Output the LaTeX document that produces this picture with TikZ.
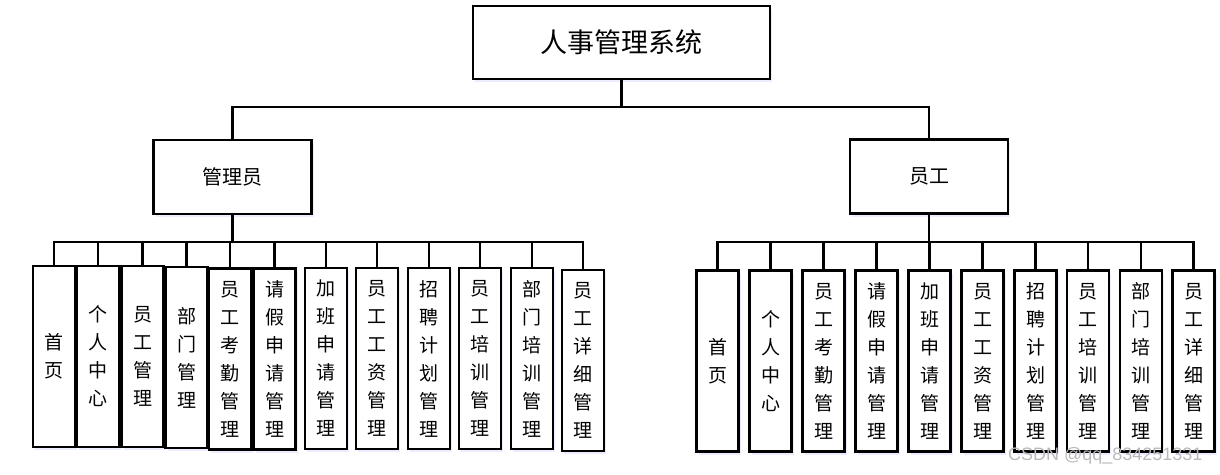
\documentclass[tikz,border=0pt]{standalone}
\usepackage{fontspec}
\setmainfont{Noto Sans CJK SC}
\newfontfamily\markfont{Liberation Sans}
\usetikzlibrary{positioning, shadows}

\begin{document}
\begin{tikzpicture}[x=1pt, y=-1pt,
    box/.style={draw, line width=2.5pt, fill=white, inner sep=0pt, align=center,
        drop shadow={shadow xshift=2pt, shadow yshift=-3pt, fill=blue!15, opacity=0.5}},
    topbox/.style={box, minimum width=297pt, minimum height=73pt, font=\fontsize{27}{32}\selectfont},
    rolebox/.style={box, minimum width=158pt, minimum height=74pt, font=\fontsize{20}{24}\selectfont},
    leafbox/.style={box, minimum width=42pt, minimum height=181pt, font=\fontsize{19}{28}\selectfont},
    link/.style={line width=2.1pt}]
    \useasboundingbox (0,0) rectangle (1220,474);

    % Top level
    \node[topbox] (root) at (621.5,42.5) {人事管理系统};
    \node[rolebox] (admin) at (232.5,177) {管理员};
    \node[rolebox] (staff) at (929,176.5) {员工};

    % Admin modules
    \node[leafbox] (a1) at (54,356.5) {首\\页};
    \node[leafbox] (a2) at (98,356.5) {个\\人\\中\\心};
    \node[leafbox] (a3) at (142.5,356.5) {员\\工\\管\\理};
    \node[leafbox] (a4) at (186.5,357.5) {部\\门\\管\\理};
    \node[leafbox] (a5) at (230,359) {员\\工\\考\\勤\\管\\理};
    \node[leafbox] (a6) at (274.5,359) {请\\假\\申\\请\\管\\理};
    \node[leafbox] (a7) at (326,358.5) {加\\班\\申\\请\\管\\理};
    \node[leafbox] (a8) at (377,358.5) {员\\工\\工\\资\\管\\理};
    \node[leafbox] (a9) at (429,358.5) {招\\聘\\计\\划\\管\\理};
    \node[leafbox] (a10) at (480,358.5) {员\\工\\培\\训\\管\\理};
    \node[leafbox] (a11) at (532,358.5) {部\\门\\培\\训\\管\\理};
    \node[leafbox] (a12) at (583,360.5) {员\\工\\详\\细\\管\\理};

    % Staff modules
    \node[leafbox] (s1) at (717.5,361) {首\\页};
    \node[leafbox] (s2) at (770.5,361) {个\\人\\中\\心};
    \node[leafbox] (s3) at (823.5,361) {员\\工\\考\\勤\\管\\理};
    \node[leafbox] (s4) at (876.5,361) {请\\假\\申\\请\\管\\理};
    \node[leafbox] (s5) at (929.5,361) {加\\班\\申\\请\\管\\理};
    \node[leafbox] (s6) at (982.5,361) {员\\工\\工\\资\\管\\理};
    \node[leafbox] (s7) at (1035.5,361) {招\\聘\\计\\划\\管\\理};
    \node[leafbox] (s8) at (1088,361) {员\\工\\培\\训\\管\\理};
    \node[leafbox] (s9) at (1141,361) {部\\门\\培\\训\\管\\理};
    \node[leafbox] (s10) at (1193.5,361) {员\\工\\详\\细\\管\\理};

    % Root connectors
    \coordinate (rootbar) at (621.5,107);
    \draw[link] (root.south) -- (rootbar);
    \draw[link] (admin.north) |- (rootbar) -| (staff.north);

    % Admin connectors
    \coordinate (adminbar) at (232.5,242);
    \draw[link] (admin.south) -- (adminbar);
    \draw[link] (a1.north) |- (adminbar);
    \draw[link] (a2.north) |- (adminbar);
    \draw[link] (a3.north) |- (adminbar);
    \draw[link] (a4.north) |- (adminbar);
    \draw[link] (a5.north) |- (adminbar);
    \draw[link] (a6.north) |- (adminbar);
    \draw[link] (a7.north) |- (adminbar);
    \draw[link] (a8.north) |- (adminbar);
    \draw[link] (a9.north) |- (adminbar);
    \draw[link] (a10.north) |- (adminbar);
    \draw[link] (a11.north) |- (adminbar);
    \draw[link] (a12.north) |- (adminbar);

    % Staff connectors
    \coordinate (staffbar) at (929,242);
    \draw[link] (staff.south) -- (staffbar);
    \draw[link] (s1.north) |- (staffbar);
    \draw[link] (s2.north) |- (staffbar);
    \draw[link] (s3.north) |- (staffbar);
    \draw[link] (s4.north) |- (staffbar);
    \draw[link] (s5.north) |- (staffbar);
    \draw[link] (s6.north) |- (staffbar);
    \draw[link] (s7.north) |- (staffbar);
    \draw[link] (s8.north) |- (staffbar);
    \draw[link] (s9.north) |- (staffbar);
    \draw[link] (s10.north) |- (staffbar);

    % Watermark
    \node[font=\markfont\fontsize{18}{18}\selectfont, text=gray!55, anchor=east] (mark) at (1206,456) {CSDN @qq\_834251331};
\end{tikzpicture}
\end{document}
